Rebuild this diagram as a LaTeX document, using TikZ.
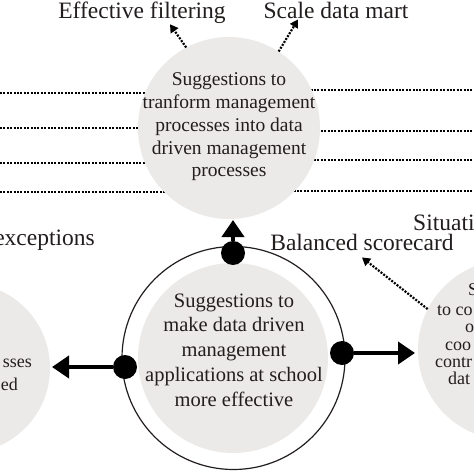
\documentclass[tikz,border=0pt]{standalone}
\usepackage{fontspec}
\setmainfont{Liberation Serif}
\usetikzlibrary{arrows.meta,positioning}
\definecolor{disc}{RGB}{236,234,232}
\definecolor{ink}{RGB}{35,30,30}

\begin{document}
\begin{tikzpicture}[x=1pt,y=-1pt,
  disk/.style={circle,fill=disc,inner sep=0pt},
  dot/.style={circle,fill=black,inner sep=0pt,minimum size=24pt},
  bigarrow/.style={line width=4pt,-{Triangle[width=22pt,length=17pt]}},
  dotline/.style={line width=2.2pt,dash pattern=on 2pt off 1.4pt,black},
  dotarrow/.style={dotline,-{Triangle[width=9pt,length=8pt]}},
  bodytxt/.style={align=center,text=ink,inner sep=0pt,font=\fontsize{19.5}{22.7}\selectfont},
  sidetxt/.style={text=ink,inner sep=0pt,font=\fontsize{18}{18}\selectfont},
  labeltxt/.style={text=ink,inner sep=1pt,font=\fontsize{23.5}{26}\selectfont}]
\useasboundingbox[fill=white] (0,0) rectangle (474,474);

\foreach \yy in {93,128,163,192}
  \draw[dotline] (0,\yy) -- (229,\yy);
\foreach \yy in {90,131,160,191}
  \draw[dotline] (229,\yy) -- (474,\yy);

\node[disk, minimum size=182pt] (trans) at (229,128) {};
\node[disk, minimum size=190pt] (apps) at (233,358) {};
\node[circle, draw=ink, line width=1.2pt, minimum size=223pt] (ring) at (233.5,358) {};
\node[disk, minimum size=180pt] (rc) at (508,350) {};
\node[disk, minimum size=170pt] (lc) at (-35,368) {};

\node[bodytxt] (transtxt) at (229,127) {Suggestions to\\tranform management\\processes into data\\driven management\\processes};
\node[bodytxt, font=\fontsize{20.5}{24.8}\selectfont] (appstxt) at (234,350) {Suggestions to\\make data driven\\management\\applications at school\\more effective};

\node[sidetxt, anchor=base east] (lc1) at (32,367) {sses};
\node[sidetxt, anchor=base east] (lc2) at (18,390) {ed};
\foreach \yy/\xx/\lbl in {295/468/S, 315/437/to co, 332/465/or, 350/445/coo, 367/435/contr, 384/448/dat}
  \node[sidetxt, anchor=base west] (rc-\yy) at (\xx,\yy) {\lbl};

\node[labeltxt, anchor=base] (filt) at (142,18) {Effective filtering};
\node[labeltxt, anchor=base] (mart) at (336,18) {Scale data mart};
\node[labeltxt, anchor=base east] (exc) at (96,245) {exceptions};
\node[labeltxt, anchor=base west] (sit) at (412,230) {Situati};
\node[labeltxt, anchor=base] (bsc) at (362,250) {Balanced scorecard};

\draw[dotarrow] (trans.118) -- ([xshift=28pt]filt.south);
\draw[dotarrow] (trans.57) -- ([xshift=-38pt]mart.south);
\draw[dotarrow] (rc.153) -- ([yshift=-6pt]bsc.south);

\node[dot] (dotN) at (233,253) {};
\node[dot] (dotW) at (125,367) {};
\node[dot] (dotE) at (342,353) {};
\coordinate (upend) at (233,220);
\coordinate (leftend) at (52,367);
\coordinate (rightend) at (415,353);
\draw[bigarrow] (dotN) -- (upend);
\draw[bigarrow] (dotW) -- (leftend);
\draw[bigarrow] (dotE) -- (rightend);
\end{tikzpicture}
\end{document}
